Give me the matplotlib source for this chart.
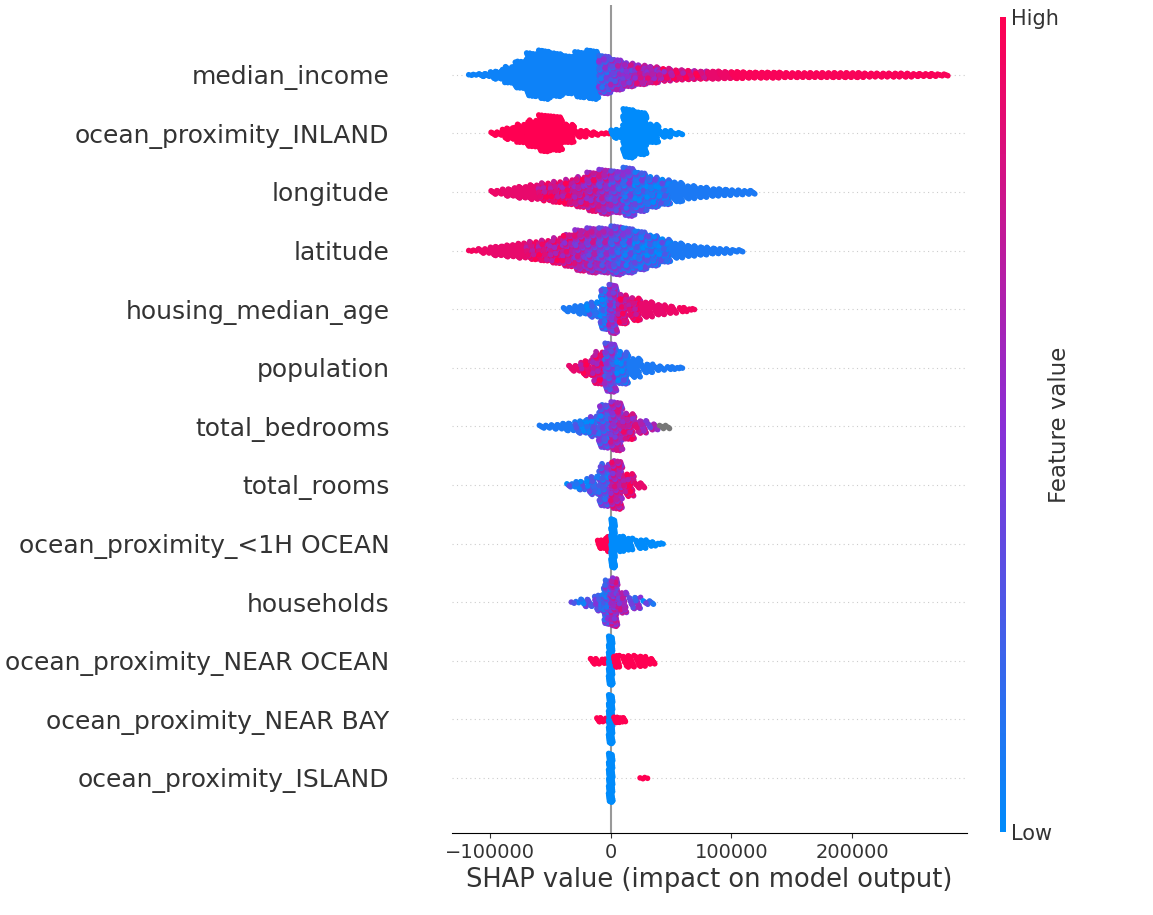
import numpy as np
import matplotlib
matplotlib.use("Agg")
import matplotlib.pyplot as plt
from matplotlib.colors import LinearSegmentedColormap

# features listed top to bottom
features = ["median_income", "ocean_proximity_INLAND", "longitude", "latitude",
            "housing_median_age", "population", "total_bedrooms", "total_rooms",
            "ocean_proximity_<1H OCEAN", "households", "ocean_proximity_NEAR OCEAN",
            "ocean_proximity_NEAR BAY", "ocean_proximity_ISLAND"]

# per feature: SHAP bin centers (thousands), point counts, mean feature value (0 low .. 1 high, -1 = missing)
mi_x = [-115,-105,-95,-85,-75,-65,-55,-45,-35,-25,-15,-5,5,15,25,35,45,55,65,75,85,95,105,115,125,135,145,155,165,175,185,195,205,215,225,235,245,255,265,275]
mi_n = [1,3,8,15,25,40,45,40,35,42,45,35,28,22,18,15,12,10,9,8,8,7,7,6,6,6,5,5,5,5,5,5,5,4,4,4,4,3,3,2]
mi_c = [0.05]*11 + [0.3,0.45,0.55,0.65,0.7,0.75,0.85,0.85,0.88,0.9,0.92] + [0.97]*18
in_x = [-95,-85,-75,-65,-55,-45,-35,-25,-15,-5,5,15,25,35,45,55]
in_n = [3,10,15,22,30,28,15,6,3,1,8,40,35,15,6,2]
in_c = [1]*10 + [0]*6
lo_x = [-95,-85,-75,-65,-55,-45,-35,-25,-15,-5,5,15,25,35,45,55,65,75,85,95,105,115]
lo_n = [3,6,9,11,13,15,18,22,28,32,30,35,28,22,18,14,10,8,6,5,4,3]
lo_c = [0.92,0.9,0.9,0.9,0.88,0.85,0.8,0.75,0.7,0.6,0.45,0.3,0.2,0.15,0.12,0.1,0.1,0.1,0.1,0.1,0.1,0.1]
la_x = [-115,-105,-95,-85,-75,-65,-55,-45,-35,-25,-15,-5,5,15,25,35,45,55,65,75,85,95,105]
la_n = [1,4,8,10,12,14,16,20,25,32,35,35,38,35,30,24,18,12,9,7,5,4,2]
la_c = [0.95,0.92,0.9,0.9,0.9,0.88,0.85,0.8,0.75,0.65,0.55,0.45,0.35,0.25,0.2,0.15,0.12,0.1,0.1,0.1,0.1,0.1,0.1]
ha_x = [-35,-25,-15,-5,2,10,20,30,40,50,60,67]
ha_n = [3,6,10,25,30,18,14,10,7,5,3,1]
ha_c = [0.1,0.1,0.12,0.15,0.5,0.8,0.88,0.9,0.9,0.92,0.95,0.95]
po_x = [-30,-20,-10,0,10,20,30,40,50,57]
po_n = [4,10,20,30,20,12,6,3,2,1]
po_c = [0.9,0.88,0.8,0.4,0.15,0.1,0.1,0.1,0.1,0.1]
tb_x = [-55,-45,-35,-25,-15,-5,5,15,25,35,44]
tb_n = [2,3,5,8,12,25,28,15,8,4,2]
tb_c = [0.1,0.1,0.1,0.15,0.2,0.3,0.6,0.75,0.7,0.5,-1]
tr_x = [-33,-25,-15,-5,5,15,24]
tr_n = [2,5,10,22,25,12,3]
tr_c = [0.15,0.15,0.2,0.3,0.7,0.85,0.9]
oh_x = [-8,-2,2,8,15,25,34,41]
oh_n = [6,10,30,10,8,6,3,1]
oh_c = [1,1,0,0,0,0,0,0]
hh_x = [-30,-20,-10,-3,3,10,20,31]
hh_n = [1,4,8,20,22,10,6,2]
hh_c = [0.2,0.2,0.3,0.3,0.6,0.6,0.4,0.2]
no_x = [-13,-5,0,5,15,25,33]
no_n = [4,3,30,8,8,7,4]
no_c = [1,1,0,1,1,1,1]
nb_x = [-9,-3,0,5,10]
nb_n = [3,2,30,4,3]
nb_c = [1,1,0,1,1]
is_x = [0,27]
is_n = [30,1]
is_c = [0,1]

data = [(mi_x,mi_n,mi_c),(in_x,in_n,in_c),(lo_x,lo_n,lo_c),(la_x,la_n,la_c),
        (ha_x,ha_n,ha_c),(po_x,po_n,po_c),(tb_x,tb_n,tb_c),(tr_x,tr_n,tr_c),
        (oh_x,oh_n,oh_c),(hh_x,hh_n,hh_c),(no_x,no_n,no_c),(nb_x,nb_n,nb_c),(is_x,is_n,is_c)]

cmap = LinearSegmentedColormap.from_list("shap", ["#008bfb", "#8a2fd6", "#ff0052"])

fig = plt.figure(figsize=(11.53, 9.15), dpi=100)
ax = fig.add_axes([452/1153, (915-833)/915, (967-452)/1153, 828/915])
nf = len(features)
g1, g2 = 0.6180339887, 0.7548776662
for i, (xs, ns, cs) in enumerate(data):
    row = nf - 1 - i
    ax.axhline(row, color="#cccccc", lw=0.8, ls=(0, (1, 3)), zorder=0)
    maxn = max(ns)
    onehot = all(c in (0, 1) for c in cs)
    px, py, pc, gx, gy = [], [], [], [], []
    for j, (x, n, c) in enumerate(zip(xs, ns, cs)):
        d = [abs(x - o) for o in xs if o != x]
        hw = min(5.0, min(d) / 2 if d else 5.0)
        if onehot and n == maxn and i >= 8:
            hw = 1.8
        h = 0.42 * n / maxn
        k = n * 4
        for t in range(k):
            u = ((t + 1) * g1) % 1
            v = ((t + 1) * g2) % 1
            xx = (x + (u - 0.5) * 2 * hw) * 1000
            yy = row + (v - 0.5) * 2 * h
            if c < 0:
                gx.append(xx); gy.append(yy)
            else:
                w = ((t + 1) * 0.41421356) % 1
                val = np.clip(c + 0.5 * (w - 0.5), 0, 1) if 0.1 < c < 0.9 else c
                px.append(xx); py.append(yy); pc.append(val)
    ax.scatter(px, py, c=pc, cmap=cmap, vmin=0, vmax=1, s=16, linewidths=0, zorder=3, rasterized=True)
    if gx:
        ax.scatter(gx, gy, color="#777777", s=16, linewidths=0, zorder=3)

ax.axvline(0, color="#999999", lw=1.5, zorder=2)
ax.set_xlim(-131500, 295300)
ax.set_ylim(-0.94, nf - 1 + 1.19)
ax.set_yticks(range(nf))
ax.set_yticklabels(features[::-1], fontsize=18, color="#333333")
ax.tick_params(axis="y", length=0, pad=45)
ax.tick_params(axis="x", labelsize=14, colors="#333333")
for s in ["left", "right", "top"]:
    ax.spines[s].set_visible(False)
ax.set_xticks([-100000, 0, 100000, 200000])
ax.set_xticklabels(["\u2212100000", "0", "100000", "200000"])
ax.set_xlabel("SHAP value (impact on model output)", fontsize=18.5, color="#333333")

cax = fig.add_axes([1000/1153, (915-832)/915, 6/1153, 815/915])
sm = matplotlib.cm.ScalarMappable(cmap=cmap, norm=matplotlib.colors.Normalize(0, 1))
cb = fig.colorbar(sm, cax=cax, ticks=[0, 1])
cb.set_ticklabels(["Low", "High"])
cb.ax.tick_params(labelsize=15, length=0, colors="#333333")
cb.outline.set_visible(False)
cb.set_label("Feature value", fontsize=16.5, color="#333333", labelpad=-8)
fig.savefig("out.png", dpi=100)
